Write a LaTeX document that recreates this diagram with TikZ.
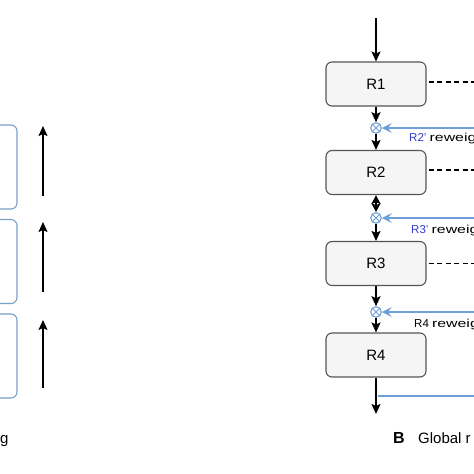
\documentclass[tikz,border=0pt]{standalone}
\usepackage{fontspec}
\setmainfont{Liberation Sans}
\usetikzlibrary{arrows.meta,positioning}
\definecolor{boxline}{RGB}{85,85,85}
\definecolor{boxfill}{RGB}{245,245,245}
\definecolor{lblue}{RGB}{110,160,215}
\definecolor{leftblue}{RGB}{120,160,200}
\definecolor{labblue}{RGB}{50,60,200}
\tikzset{
  rbox/.style={draw=boxline, fill=boxfill, line width=1.1pt, rounded corners=6pt,
    minimum width=100pt, minimum height=44pt, inner sep=0pt, font=\fontsize{15}{17}\selectfont},
  lbox/.style={draw=leftblue, line width=1.1pt, rounded corners=6pt,
    minimum width=40pt, minimum height=84pt, inner sep=0pt},
  flow/.style={line width=1.6pt, -{Stealth[length=10pt,width=9pt,inset=2pt]}},
  flowboth/.style={line width=1.6pt, {Stealth[length=9pt,width=9pt,inset=2pt]}-{Stealth[length=9pt,width=9pt,inset=2pt]}},
  multc/.style={draw=lblue, line width=1.1pt, circle, minimum size=10.5pt, inner sep=0pt},
  bline/.style={draw=lblue, line width=1.3pt, -{Stealth[length=10pt,width=10pt,inset=4pt]}},
  dline/.style={line width=1.4pt, dash pattern=on 5pt off 3.5pt},
  labA/.style={font=\fontsize{11.5}{13}\selectfont, anchor=base west, inner sep=0pt},
}
\newcommand{\rwtext}{\scalebox{1.38}[1]{reweig}}
\begin{document}
\begin{tikzpicture}[x=1pt,y=-1pt]
\useasboundingbox (0,0) rectangle (474,474);
\clip (0,0) rectangle (474,474);
\fill[white] (0,0) rectangle (474,474);

% left panel
\node[lbox] (L1) at (-3,167) {};
\node[lbox] (L2) at (-3,261.5) {};
\node[lbox] (L3) at (-3,356) {};
\coordinate (a1s) at (43,196); \coordinate (a1e) at (43,126);
\coordinate (a2s) at (43,292); \coordinate (a2e) at (43,222);
\coordinate (a3s) at (43,388); \coordinate (a3e) at (43,320);
\draw[flow] (a1s) -- (a1e);
\draw[flow] (a2s) -- (a2e);
\draw[flow] (a3s) -- (a3e);
\node[font=\fontsize{15}{17}\selectfont, anchor=base west, inner sep=0pt] (lt) at (0,443) {g};

% right panel
\node[rbox] (R1) at (376,84) {R1};
\node[rbox] (R2) at (376,172.5) {R2};
\node[rbox] (R3) at (376,263.5) {R3};
\node[rbox] (R4) at (376,355) {R4};

\node[multc] (c2) at (376,128) {};
\node[multc] (c3) at (376,218) {};
\node[multc] (c4) at (376,312) {};
\foreach \c in {c2,c3,c4}{
  \draw[lblue, line width=1pt] (\c.45) -- (\c.225) (\c.135) -- (\c.315);
}

\coordinate (top) at (376,18);
\coordinate (bot) at (376,414);
\draw[flow] (top) -- (R1.north);
\draw[flow] (R1.south) -- (c2.north);
\draw[flow] (c2.south) -- (R2.north);
\draw[flowboth] (R2.south) -- (c3.north);
\draw[flow] (c3.south) -- (R3.north);
\draw[flow] (R3.south) -- (c4.north);
\draw[flow] (c4.south) -- (R4.north);
\draw[flow] (R4.south) -- (bot);

% dashed
\draw[dline] ([xshift=2pt,yshift=2pt]R1.east) -- +(60,0);
\draw[dline] ([xshift=2pt,yshift=2.5pt]R2.east) -- +(60,0);
\draw[dline] ([xshift=2pt]R3.east) -- +(60,0);

% blue lines
\coordinate (b2) at (476,128);
\coordinate (b3) at (476,218);
\coordinate (b4) at (476,312);
\draw[bline] (b2) -- (c2.east);
\draw[bline] (b3) -- (c3.east);
\draw[bline] (b4) -- (c4.east);
\coordinate (bb0) at (378,396);
\coordinate (bb1) at (476,396);
\draw[lblue, line width=1.3pt] (bb0) -- (bb1);

\node[labA] (t2) at (409,141) {\textcolor{labblue}{R2'} \rwtext};
\node[labA] (t3) at (411,233) {\textcolor{labblue}{R3'} \rwtext};
\node[labA] (t4) at (414,327) {R4 \rwtext};

\node[font=\bfseries\fontsize{16}{18}\selectfont, anchor=base west, inner sep=0pt] (B) at (393,443.5) {B};
\node[font=\fontsize{15}{17}\selectfont, anchor=base west, inner sep=0pt] (gl) at (418,443.5) {Global r};
\end{tikzpicture}
\end{document}
